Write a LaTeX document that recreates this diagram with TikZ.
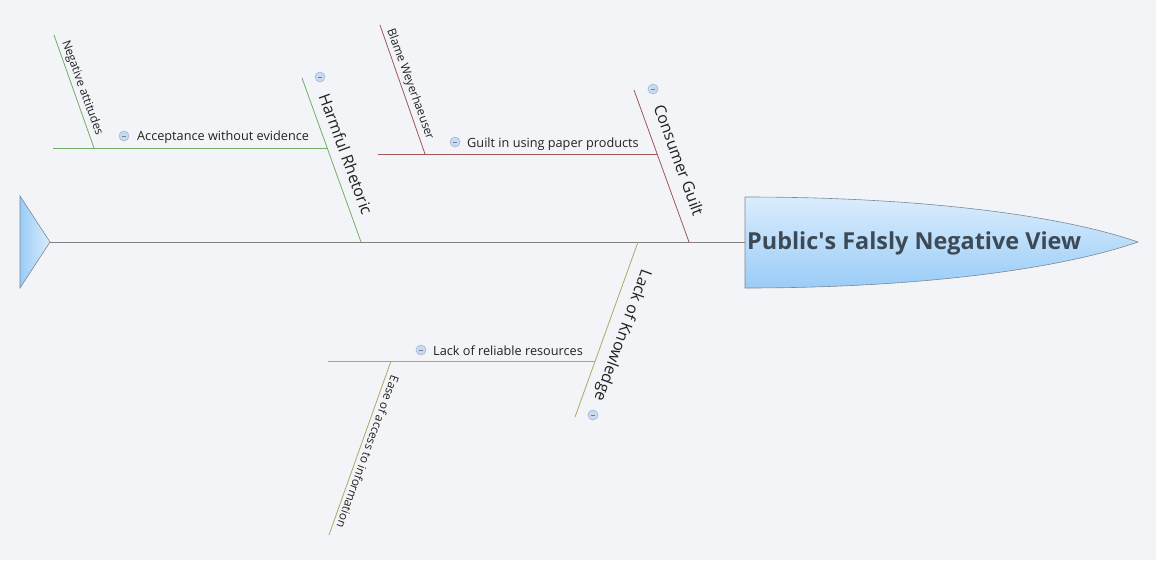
\documentclass[tikz,border=0pt]{standalone}
\usepackage{fontspec}
\setmainfont{Open Sans}
\definecolor{bgcol}{HTML}{F3F4F7}
\definecolor{spinegray}{HTML}{808080}
\definecolor{grn}{HTML}{74AE66}
\definecolor{brn}{HTML}{9E5858}
\definecolor{olv}{HTML}{B0A868}
\definecolor{labcol}{HTML}{222222}
\definecolor{headtxt}{HTML}{3D4A55}
\definecolor{headtop}{HTML}{DAEDFD}
\definecolor{headbot}{HTML}{9ACCF7}
\definecolor{headline}{HTML}{7C8893}
\definecolor{circf}{HTML}{C9D9EF}
\definecolor{circb}{HTML}{A3B8D6}
\begin{document}
\begin{tikzpicture}[x=1pt,y=-1pt,
  spine/.style={draw=spinegray, line width=0.9pt},
  bone/.style={line width=0.8pt},
  mainlab/.style={inner sep=0pt, text=labcol, font=\fontsize{16}{19}\selectfont},
  sublab/.style={inner sep=0pt, text=labcol, font=\fontsize{12.7}{15}\selectfont, anchor=base west},
  leaflab/.style={inner sep=0pt, text=labcol, font=\fontsize{11.8}{14}\selectfont},
  collapse/.style={circle, draw=circb, fill=circf, minimum size=10pt, inner sep=0pt, line width=0.6pt,
    path picture={\draw[circb!70!black, line width=0.7pt] ([xshift=-2.3pt]path picture bounding box.center) -- ([xshift=2.3pt]path picture bounding box.center);}},
]
\fill[bgcol] (0,0) rectangle (1156,560);
\useasboundingbox (0,0) rectangle (1156,560);

% coordinates
\coordinate (tailtip) at (50,242);
\coordinate (headL) at (745,242);
\coordinate (hrB) at (361,242); \coordinate (hrT) at (302,78);
\coordinate (aeL) at (53,148);  \coordinate (aeR) at (327,148);
\coordinate (naB) at (94,148);  \coordinate (naT) at (54,35);
\coordinate (cgB) at (689,242); \coordinate (cgT) at (634,90);
\coordinate (guL) at (378,154); \coordinate (guR) at (657,154);
\coordinate (bwB) at (425,154); \coordinate (bwT) at (380,25);
\coordinate (lkT) at (638,242); \coordinate (lkB) at (575,417);
\coordinate (lrL) at (328,361); \coordinate (lrR) at (595,361);
\coordinate (eaT) at (391,361); \coordinate (eaB) at (329,535);

% tail
\shade[left color=headbot, right color=headtop, draw=headline, line width=0.6pt]
  (20,196) -- (tailtip) -- (20,288) -- cycle;
% head
\shade[top color=headtop, bottom color=headbot, draw=headline, line width=0.6pt]
  (745,197) .. controls (920,197) and (1060,215) .. (1138,242)
  .. controls (1060,269) and (920,288) .. (745,288) -- cycle;
\node[anchor=base west, inner sep=0pt, text=headtxt, font=\bfseries\fontsize{23.4}{28}\selectfont] (head) at (747,249.5) {Public\textquotesingle s Falsly Negative View};

% spine
\draw[spine] (tailtip) -- (headL);

% Harmful Rhetoric
\draw[bone, grn] (hrB) -- (hrT);
\draw[bone, grn] (aeL) -- (aeR);
\draw[bone, grn] (naB) -- (naT);
\node[mainlab, rotate=-70] (hr) at (346,154) {Harmful Rhetoric};
\node[collapse] (hrc) at (320,77) {};
\node[sublab] (ae) at (137,140) {Acceptance without evidence};
\node[collapse] (aec) at (124,136) {};
\node[leaflab, rotate=-70] (na) at (82,88) {Negative attitudes};

% Consumer Guilt
\draw[bone, brn] (cgB) -- (cgT);
\draw[bone, brn] (guL) -- (guR);
\draw[bone, brn] (bwB) -- (bwT);
\node[mainlab, rotate=-70] (cg) at (679,160) {Consumer Guilt};
\node[collapse] (cgc) at (653,89) {};
\node[sublab] (gu) at (467,147) {Guilt in using paper products};
\node[collapse] (guc) at (455,142) {};
\node[leaflab, rotate=-70] (bw) at (410,84) {Blame Weyerhaeuser};

% Lack of Knowledge
\draw[bone, olv] (lkT) -- (lkB);
\draw[bone, olv] (lrL) -- (lrR);
\draw[bone, olv] (eaT) -- (eaB);
\node[mainlab, rotate=-110] (lk) at (622,335) {Lack of Knowledge};
\node[collapse] (lkc) at (593,415) {};
\node[sublab] (lr) at (433,355) {Lack of reliable resources};
\node[collapse] (lrc) at (421,350) {};
\node[leaflab, rotate=-110] (ea) at (368,452) {Ease of access to information};
\end{tikzpicture}
\end{document}
